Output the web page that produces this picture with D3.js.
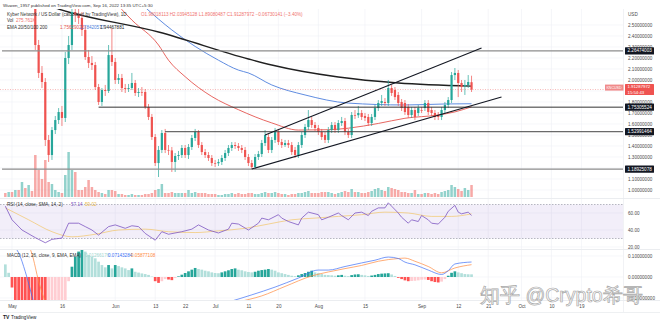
<!DOCTYPE html>
<html><head><meta charset="utf-8">
<script src="https://cdn.jsdelivr.net/npm/d3@7"></script>
<style>
body{margin:0;background:#fff}
svg{display:block}
text{font-family:"Liberation Sans",Arial,sans-serif}
</style>
</head><body>
<svg id="c" width="660" height="324"></svg>
<script>
// ---------- DATA ----------
const firstDay = "04-29", lastDay = "09-16";
const opens = [3.045,2.955,3.000,2.909,2.982,2.864,2.927,2.773,2.836,2.682,2.318,2.064,
1.982,1.455,1.318,1.545,1.636,1.709,1.655,2.200,2.318,2.618,
2.591,2.564,2.455,2.209,2.155,2.136,1.936,1.800,1.909,1.900,
2.227,2.164,2.000,2.018,1.927,1.918,1.927,1.973,1.882,1.891,
1.891,1.755,1.664,1.482,1.245,1.364,1.518,1.364,1.360,1.255,
1.309,1.318,1.382,1.318,1.391,1.473,1.527,1.409,1.345,1.318,
1.291,1.245,1.243,1.255,1.291,1.336,1.382,1.409,1.400,1.382,
1.364,1.300,1.245,1.209,1.300,1.327,1.427,1.482,1.364,1.455,
1.527,1.436,1.409,1.427,1.409,1.364,1.318,1.409,1.500,1.573,
1.636,1.591,1.564,1.527,1.500,1.455,1.545,1.591,1.545,1.609,
1.627,1.527,1.500,1.682,1.680,1.700,1.673,1.664,1.609,1.664,
1.745,1.791,1.800,1.791,1.927,1.909,1.864,1.800,1.791,1.755,
1.682,1.727,1.700,1.727,1.745,1.791,1.727,1.700,1.682,1.664,
1.727,1.773,1.818,2.045,2.064,1.973,1.945,1.955,1.980];
const highs = [3.136,3.073,3.055,3.036,3.018,3.000,2.964,2.891,2.864,2.727,2.364,2.127,
2.018,1.500,1.573,1.673,1.745,1.764,2.255,2.400,2.682,2.727,
2.709,2.618,2.491,2.273,2.218,2.164,1.964,1.927,1.955,2.318,
2.473,2.200,2.055,2.055,1.964,1.964,2.064,2.000,1.927,1.936,
1.918,1.782,1.691,1.509,1.400,1.545,1.555,1.409,1.391,1.336,
1.355,1.409,1.409,1.418,1.500,1.555,1.545,1.436,1.373,1.345,
1.318,1.273,1.282,1.318,1.364,1.409,1.436,1.436,1.427,1.409,
1.391,1.327,1.273,1.327,1.355,1.455,1.545,1.509,1.482,1.564,
1.555,1.464,1.455,1.455,1.436,1.391,1.436,1.527,1.600,1.727,
1.664,1.618,1.591,1.555,1.527,1.573,1.618,1.618,1.636,1.664,
1.655,1.555,1.709,1.727,1.764,1.727,1.700,1.691,1.691,1.773,
1.818,1.864,1.836,2.000,1.955,1.936,1.891,1.827,1.818,1.782,
1.755,1.755,1.773,1.755,1.818,1.818,1.755,1.727,1.709,1.755,
1.800,1.845,2.073,2.109,2.091,2.000,2.000,2.045,2.039];
const lows = [2.909,2.891,2.836,2.855,2.800,2.818,2.727,2.709,2.655,2.273,2.018,1.927,
1.400,1.255,1.273,1.509,1.600,1.582,1.618,2.145,2.273,2.527,
2.509,2.400,2.182,2.109,2.091,1.909,1.773,1.764,1.855,1.882,
2.127,1.964,1.964,1.891,1.882,1.891,1.909,1.855,1.845,1.855,
1.736,1.636,1.455,1.218,1.118,1.336,1.336,1.318,1.164,1.164,
1.273,1.291,1.291,1.282,1.364,1.445,1.382,1.318,1.291,1.264,
1.218,1.209,1.218,1.227,1.264,1.309,1.355,1.373,1.355,1.336,
1.273,1.218,1.191,1.191,1.273,1.300,1.400,1.336,1.336,1.427,
1.409,1.382,1.391,1.382,1.318,1.291,1.291,1.382,1.473,1.545,
1.564,1.536,1.500,1.455,1.427,1.427,1.518,1.518,1.518,1.582,
1.500,1.473,1.473,1.645,1.655,1.636,1.627,1.582,1.582,1.636,
1.718,1.764,1.764,1.764,1.855,1.818,1.764,1.718,1.682,1.655,
1.655,1.636,1.673,1.700,1.718,1.682,1.673,1.636,1.636,1.636,
1.700,1.745,1.791,2.000,1.845,1.891,1.864,1.927,1.891];
const closes = [2.955,3.000,2.909,2.982,2.864,2.927,2.773,2.836,2.682,2.318,2.064,1.982,
1.455,1.318,1.545,1.636,1.709,1.655,2.200,2.318,2.618,2.591,
2.564,2.455,2.209,2.155,2.136,1.936,1.800,1.909,1.900,2.227,
2.164,2.000,2.018,1.927,1.918,1.927,1.973,1.882,1.891,1.889,
1.755,1.664,1.482,1.245,1.364,1.518,1.364,1.360,1.255,1.309,
1.318,1.382,1.318,1.391,1.473,1.527,1.409,1.345,1.318,1.291,
1.245,1.243,1.255,1.291,1.336,1.382,1.409,1.400,1.382,1.364,
1.300,1.245,1.209,1.300,1.327,1.427,1.500,1.364,1.455,1.527,
1.436,1.409,1.427,1.409,1.345,1.318,1.409,1.500,1.573,1.636,
1.591,1.564,1.527,1.482,1.455,1.545,1.591,1.545,1.609,1.627,
1.527,1.500,1.682,1.680,1.700,1.664,1.655,1.609,1.664,1.745,
1.791,1.809,1.791,1.927,1.882,1.845,1.791,1.745,1.709,1.682,
1.727,1.664,1.745,1.725,1.791,1.709,1.700,1.664,1.664,1.727,
1.773,1.818,2.045,2.064,1.973,1.936,1.955,1.982,1.91287972];
const volumesK = [92,115,115,161,161,345,207,276,138,966,621,414,
851,345,299,161,115,92,506,1035,621,575,
161,161,230,391,230,161,115,92,69,161,
161,138,69,69,46,46,69,46,46,46,
69,69,92,161,184,299,92,92,115,92,
92,92,92,161,92,115,92,92,92,69,
69,69,46,46,69,69,92,69,92,69,
69,92,92,69,69,92,115,92,92,115,
92,69,69,46,69,69,92,92,115,138,
92,92,92,115,115,115,92,69,92,115,
138,115,184,115,115,92,92,115,138,184,
207,161,138,230,207,184,161,115,115,92,
92,161,69,69,92,92,69,92,69,115,
138,161,276,230,184,138,207,161,275.761];

const ema50Dates = ["05-25","06-06","06-14","06-17","06-22","06-30","07-08","07-18","07-26","08-04","08-10","08-19","08-27","09-06","09-11","09-16"];
const ema50Vals  = [2.95,2.545,2.318,2.18,2.03,1.85,1.73,1.61,1.545,1.548,1.562,1.605,1.652,1.682,1.71,1.75629022];
const ema100Dates = ["05-31","06-10","06-18","07-02","07-08","07-11","07-18","07-28","08-10","08-27","09-08","09-16"];
const ema100Vals  = [2.95,2.66,2.455,2.18,2.09,2.064,1.955,1.864,1.79,1.773,1.782,1.78420577];
const ema200Dates = ["05-01","05-15","06-14","07-11","07-18","08-07","08-25","09-16"];
const ema200Vals  = [2.80,2.645,2.436,2.191,2.136,2.027,1.973,1.94467881];

const levelPrices = [2.26474003, 1.75305524, 1.52991464, 1.18925078];
const levelStarts = ["04-28", "05-27", "06-16", "04-28"];
const trendUpDates = ["07-16","09-19"], trendUpPrices = [1.50, 2.291];
const trendLoDates = ["07-12","09-25"], trendLoPrices = [1.191, 1.845];
const lastPrice = 1.91287972;

const rsiDates = ["04-29","05-01","05-04","05-08","05-11","05-13","05-16","05-18","05-21","05-23",
"05-25","05-27","05-30","06-01","06-04","06-06","06-08","06-10","06-13","06-15",
"06-17","06-21","06-24","06-26","06-29","07-02","07-05","07-06","07-08","07-11",
"07-14","07-15","07-17","07-20","07-21","07-23","07-26","07-27","07-29","08-01",
"08-02","08-04","08-07","08-08","08-10","08-12","08-14","08-16","08-17","08-19",
"08-21","08-22","08-23","08-25","08-26","08-28","08-29","08-31","09-01","09-03",
"09-04","09-06","09-08","09-09","09-11","09-12","09-13","09-15","09-16"];
const rsiVals = [68,52,40,31,25,29,30.5,48,48,44,
40,34,44,46,42,45,44,36,28,38,
35,38,41,46,40,36.5,41,48,47,40,
48,54,52,58,54,50,46,54,61,58,
52,55,60,57,52,60,61,57,62,66,
66,72,68,60,55,48,52,50,57,52,
48,47,55,62,69,61,59,61,57.14];
const rsiMaDates = ["04-29","05-06","05-13","05-19","05-26","06-02","06-10","06-17","06-25","07-02","07-10","07-17","07-24","07-31","08-07","08-14","08-21","08-28","09-04","09-10","09-16"];
const rsiMaVals  = [66,52,38,32,35,40,41,38,37,39,42,47,52,54,56,58,61,60,56,56,59.02];

const macdDates = ["04-29","05-02","05-03","05-05","05-08","05-11","05-31","06-25","07-05","07-12","07-19","07-26","08-01","08-04","08-09","08-14","08-18","08-22","08-25","08-27","08-30","09-03","09-07","09-09","09-11","09-16"];
const macdVals  = [0.2,0.14,0.115,0.025,-0.15,-0.3,-0.3,-0.16,-0.119,-0.085,-0.048,-0.005,0.033,0.033,0.05,0.067,0.08,0.095,0.088,0.071,0.058,0.033,0.012,0.03,0.062,0.07143284];
const signalDates = ["04-29","05-04","05-07","05-09","05-11","05-16","05-31","06-25","07-08","07-15","07-22","07-30","08-04","08-09","08-14","08-19","08-25","08-27","08-30","09-03","09-07","09-11","09-16"];
const signalVals  = [0.28,0.19,0.11,-0.02,-0.12,-0.28,-0.32,-0.18,-0.119,-0.09,-0.045,0.005,0.024,0.04,0.055,0.075,0.088,0.09,0.075,0.05,0.02,0.043,0.05877108];
const histVals = [0.06,0.02,-0.05,-0.12,-0.18,-0.22,-0.25,-0.27,-0.29,-0.32,-0.35,-0.36,
-0.38,-0.35,-0.3,-0.26,-0.22,-0.18,-0.12,-0.02,0.049,0.097,
0.121,0.132,0.121,0.105,0.097,0.089,0.073,0.057,0.046,0.057,
0.041,0.057,0.052,0.046,0.041,0.033,0.041,0.025,0.021,0.017,
0.014,0.01,0.002,-0.02,-0.028,-0.02,-0.01,-0.012,-0.015,-0.005,
0.003,0.011,0.019,0.027,0.035,0.043,0.038,0.035,0.03,0.027,
0.022,0.019,0.018,0.022,0.027,0.032,0.038,0.041,0.035,0.032,
0.027,0.024,0.022,0.025,0.03,0.033,0.035,0.038,0.035,0.03,
0.022,0.018,0.014,0.01,0.006,0.004,0.008,0.014,0.019,0.025,
0.03,0.022,0.018,0.014,0.01,0.009,0.008,0.006,0.008,0.01,
0.006,0.004,0.009,0.012,0.013,0.01,0.008,0.005,0.007,0.01,
0.014,0.016,0.017,0.018,0.012,0.005,-0.004,-0.01,-0.016,-0.02,
-0.019,-0.018,-0.016,-0.013,-0.012,-0.014,-0.02,-0.024,-0.026,-0.022,
-0.01,0.006,0.02,0.027,0.022,0.018,0.014,0.013,0.01266176];

const priceTicks = [1.0,1.1,1.2,1.3,1.4,1.5,1.6,1.7,1.8,1.9,2.0,2.1,2.2,2.3,2.4,2.5];
const rsiTicks = [20,40,60];
const macdTicks = [-0.1,0,0.1];
const timeTicks = ["05-01","05-16","06-01","06-13","06-22","07-01","07-11","07-20","08-01","08-15","09-01","09-12","09-21","10-01","10-10","10-19"];

// ---------- SETUP ----------
const parse = s => d3.utcParse("%Y-%m-%d")("2022-" + s);
const zip = (a, b) => a.map((d, i) => [parse(d), b[i]]);
const dates = d3.utcDay.range(parse(firstDay), d3.utcDay.offset(parse(lastDay), 1));
const idx = d3.range(dates.length);

const svg = d3.select("#c");
svg.append("rect").attr("width", 660).attr("height", 324).attr("fill", "#fff");

const PR = 623;
const main = {t: 9, b: 198}, rsiP = {t: 199, b: 249}, macdP = {t: 250, b: 300};
const x = d3.scaleUtc().domain([parse("05-01"), parse("10-19")]).range([12, 12 + 171 * 3.33]);
const yP = d3.scaleLinear().domain([1, 2.5]).range([190, 25]);
const yV = d3.scaleLinear().domain([0, 1150]).range([197, 147]);
const yR = d3.scaleLinear().domain([20, 60]).range([247, 213]);
const yM = d3.scaleLinear().domain([-0.1, 0.1]).range([298, 256]);

const UP = "#26a69a", DN = "#ef5350";
const FS = 4.6;
const defs = svg.append("defs");
function clip(id, p) {
  defs.append("clipPath").attr("id", id).append("rect").attr("x", 0).attr("y", p.t).attr("width", PR).attr("height", p.b - p.t);
  return svg.append("g").attr("clip-path", `url(#${id})`);
}
const gMain = clip("cm", main), gRsi = clip("cr", rsiP), gMacd = clip("cd", macdP);

// grid
[[gMain, main], [gRsi, rsiP], [gMacd, macdP]].forEach(([g, p]) => {
  g.selectAll("line.vg").data(timeTicks).join("line")
    .attr("x1", d => x(parse(d))).attr("x2", d => x(parse(d)))
    .attr("y1", p.t).attr("y2", p.b).attr("stroke", "#eef0f5").attr("stroke-width", 0.6);
});
gMain.selectAll("line.hg").data(priceTicks).join("line")
  .attr("x1", 0).attr("x2", PR).attr("y1", d => yP(d)).attr("y2", d => yP(d))
  .attr("stroke", "#f0f2f6").attr("stroke-width", 0.6);
gRsi.selectAll("line.hg").data(rsiTicks).join("line")
  .attr("x1", 0).attr("x2", PR).attr("y1", d => yR(d)).attr("y2", d => yR(d))
  .attr("stroke", "#f0f2f6").attr("stroke-width", 0.6);
gMacd.selectAll("line.hg").data(macdTicks).join("line")
  .attr("x1", 0).attr("x2", PR).attr("y1", d => yM(d)).attr("y2", d => yM(d))
  .attr("stroke", "#f0f2f6").attr("stroke-width", 0.6);

// pane separators
[198.5, 249.5, 300.5].forEach(yy => svg.append("line").attr("x1", 0).attr("x2", 660).attr("y1", yy).attr("y2", yy).attr("stroke", "#e3e5ea").attr("stroke-width", 0.7));
svg.append("line").attr("x1", PR + 0.5).attr("x2", PR + 0.5).attr("y1", 9).attr("y2", 312).attr("stroke", "#e8eaef").attr("stroke-width", 0.6);
svg.append("line").attr("x1", 0).attr("x2", 660).attr("y1", 312.5).attr("y2", 312.5).attr("stroke", "#e3e5ea").attr("stroke-width", 0.6);

// volume
const isUp = i => closes[i] >= opens[i];
gMain.append("g").selectAll("rect").data(idx).join("rect")
  .attr("x", i => x(dates[i]) - 1.25).attr("width", 2.5)
  .attr("y", i => yV(volumesK[i])).attr("height", i => yV(0) - yV(volumesK[i]))
  .attr("fill", i => isUp(i) ? UP : DN).attr("opacity", 0.5);

// EMAs
const lineP = d3.line().x(d => x(d[0])).y(d => yP(d[1])).curve(d3.curveMonotoneX);
gMain.append("path").attr("d", lineP(zip(ema50Dates, ema50Vals))).attr("fill", "none").attr("stroke", "#e4554f").attr("stroke-width", 0.9);
gMain.append("path").attr("d", lineP(zip(ema100Dates, ema100Vals))).attr("fill", "none").attr("stroke", "#4d7fdc").attr("stroke-width", 0.9);
gMain.append("path").attr("d", lineP(zip(ema200Dates, ema200Vals))).attr("fill", "none").attr("stroke", "#202020").attr("stroke-width", 1.4);

// candles
const bw = 2.2;
const gc = gMain.append("g");
gc.selectAll("line").data(idx).join("line")
  .attr("x1", i => x(dates[i])).attr("x2", i => x(dates[i]))
  .attr("y1", i => yP(highs[i])).attr("y2", i => yP(lows[i]))
  .attr("stroke", i => isUp(i) ? UP : DN).attr("stroke-width", 0.7);
gc.selectAll("rect").data(idx).join("rect")
  .attr("x", i => x(dates[i]) - bw / 2).attr("width", bw)
  .attr("y", i => yP(Math.max(opens[i], closes[i])))
  .attr("height", i => Math.max(0.7, Math.abs(yP(opens[i]) - yP(closes[i]))))
  .attr("fill", i => isUp(i) ? UP : DN);

// horizontal levels
const levelColors = ["#8d8d8d", "#333", "#444", "#8d8d8d"];
const levelWidths = [1.3, 1.0, 1.0, 1.3];
levelPrices.forEach((p, i) => {
  gMain.append("line").attr("x1", x(parse(levelStarts[i]))).attr("x2", PR)
    .attr("y1", yP(p)).attr("y2", yP(p)).attr("stroke", levelColors[i]).attr("stroke-width", levelWidths[i]);
});
// trend lines
[[trendUpDates, trendUpPrices], [trendLoDates, trendLoPrices]].forEach(([ds, ps]) => {
  gMain.append("line").attr("x1", x(parse(ds[0]))).attr("y1", yP(ps[0]))
    .attr("x2", x(parse(ds[1]))).attr("y2", yP(ps[1]))
    .attr("stroke", "#131722").attr("stroke-width", 1.1);
});
// last price line
gMain.append("line").attr("x1", 0).attr("x2", PR).attr("y1", yP(lastPrice)).attr("y2", yP(lastPrice))
  .attr("stroke", DN).attr("stroke-width", 0.6).attr("stroke-dasharray", "1,1.5").attr("opacity", 0.7);

// RSI pane
gRsi.append("rect").attr("x", 0).attr("width", PR).attr("y", yR(70)).attr("height", yR(30) - yR(70)).attr("fill", "rgba(126,87,194,0.1)");
[70, 30].forEach(v => gRsi.append("line").attr("x1", 0).attr("x2", PR).attr("y1", yR(v)).attr("y2", yR(v))
  .attr("stroke", "#8a8d99").attr("stroke-width", 0.6).attr("stroke-dasharray", "1.5,1.5"));
const lineR = d3.line().x(d => x(d[0])).y(d => yR(d[1])).curve(d3.curveLinear);
gRsi.append("path").attr("d", d3.line().x(d => x(d[0])).y(d => yR(d[1])).curve(d3.curveMonotoneX)(zip(rsiMaDates, rsiMaVals)))
  .attr("fill", "none").attr("stroke", "#f3c25a").attr("stroke-width", 0.8).attr("opacity", 0.8);
gRsi.append("path").attr("d", lineR(zip(rsiDates, rsiVals))).attr("fill", "none").attr("stroke", "#7e57c2").attr("stroke-width", 0.8);

// MACD pane
const histColor = (i) => {
  const v = histVals[i], pv = i > 0 ? histVals[i - 1] : v;
  if (v >= 0) return pv < v ? "#26a69a" : "#b2dfdb";
  return pv < v ? "#ffcdd2" : "#ff5252";
};
gMacd.append("g").selectAll("rect").data(idx).join("rect")
  .attr("x", i => x(dates[i]) - 1.35).attr("width", 2.7)
  .attr("y", i => Math.min(yM(0), yM(histVals[i])))
  .attr("height", i => Math.abs(yM(histVals[i]) - yM(0)))
  .attr("fill", (d, i) => histColor(i));
const lineM = d3.line().x(d => x(d[0])).y(d => yM(d[1])).curve(d3.curveMonotoneX);
gMacd.append("path").attr("d", lineM(zip(signalDates, signalVals))).attr("fill", "none").attr("stroke", "#ff8a3d").attr("stroke-width", 0.7);
gMacd.append("path").attr("d", lineM(zip(macdDates, macdVals))).attr("fill", "none").attr("stroke", "#3d6ff5").attr("stroke-width", 0.7);

// ---------- AXES ----------
const axisStyle = g => { g.select(".domain").remove(); g.selectAll("text").attr("font-size", FS).attr("fill", "#4a4a4a").attr("font-family", '"Liberation Sans",Arial,sans-serif'); };
svg.append("g").attr("transform", `translate(${PR + 2},0)`)
  .call(d3.axisRight(yP).tickValues(priceTicks).tickSize(0).tickPadding(3).tickFormat(d3.format(".8f")))
  .call(axisStyle);
svg.append("g").attr("transform", `translate(${PR + 2},0)`)
  .call(d3.axisRight(yR).tickValues(rsiTicks).tickSize(0).tickPadding(3).tickFormat(d3.format(".2f")))
  .call(axisStyle);
svg.append("g").attr("transform", `translate(${PR + 2},0)`)
  .call(d3.axisRight(yM).tickValues(macdTicks).tickSize(0).tickPadding(3).tickFormat(d3.format(".8f")))
  .call(axisStyle);
const fmtT = d => d.getUTCDate() === 1 ? d3.utcFormat("%b")(d) : d3.utcFormat("%-d")(d);
svg.append("g").attr("transform", `translate(0,${macdP.b + 3})`)
  .call(d3.axisBottom(x).tickValues(timeTicks.map(parse)).tickSize(0).tickPadding(1.5).tickFormat(fmtT))
  .call(axisStyle);
svg.append("text").attr("x", PR + 5).attr("y", 16).attr("font-size", FS).attr("fill", "#4a4a4a").text("USD");

// level labels
levelPrices.forEach(p => {
  const yy = yP(p);
  svg.append("rect").attr("x", PR + 2).attr("y", yy - 3.6).attr("width", 29).attr("height", 7.2).attr("fill", "#131722").attr("rx", 0.5);
  svg.append("text").attr("x", PR + 4.5).attr("y", yy).attr("dy", "0.35em").attr("font-size", FS).attr("fill", "#fff").text(p.toFixed(8));
});
// last price label
{
  const yy = yP(lastPrice);
  svg.append("rect").attr("x", 605).attr("y", yy - 5).attr("width", 18.5).attr("height", 6).attr("fill", "#f08a8a");
  svg.append("text").attr("x", 614).attr("y", yy - 2).attr("dy", "0.35em").attr("text-anchor", "middle").attr("font-size", 3.6).attr("fill", "#fff").text("KNCUSD");
  svg.append("rect").attr("x", PR + 2).attr("y", yy - 5.5).attr("width", 29).attr("height", 11).attr("fill", DN).attr("rx", 0.5);
  svg.append("text").attr("x", PR + 4.5).attr("y", yy - 2.6).attr("dy", "0.35em").attr("font-size", 4.3).attr("fill", "#fff").text(lastPrice.toFixed(8));
  svg.append("text").attr("x", PR + 4.5).attr("y", yy + 2.6).attr("dy", "0.35em").attr("font-size", 4.3).attr("fill", "#fff").text("15:54:43");
}

// ---------- LEGENDS ----------
const T = (xx, yy, s, col, fs) => svg.append("text").attr("x", xx).attr("y", yy).attr("font-size", fs || FS).attr("fill", col || "#333").text(s);
T(3, 6.6, "Wuwen_1957 published on TradingView.com, Sep 16, 2022 13:35 UTC+5:30", "#333", 4.4);
T(7, 16, "Kyber Network / US Dollar (calculated by TradingView), 1D", "#333");
T(141, 16, "O1.98018113 H2.03945128 L1.89080487 C1.91287972 \u22120.06730141 (\u22123.40%)", "#f0736f");
T(7, 22.4, "Vol", "#333");
T(16, 22.4, "275.761K", "#f0736f");
T(7, 28.6, "EMA 20/50/100 200", "#333");
T(60, 28.6, "1.75629022", "#e4554f");
T(80, 28.6, "1.78420577", "#4d7fdc");
T(100, 28.6, "1.94467881", "#222");
T(7, 205.5, "RSI (14, close, SMA, 14, 2)", "#333");
T(71, 205.5, "57.14", "#7e57c2");
T(85, 205.5, "59.02", "#e9b949");
T(7, 256.5, "MACD (12, 26, close, 9, EMA, EMA)", "#333");
T(85, 256.5, "0.01266176", "#9fd6cf");
T(108, 256.5, "0.07143284", "#3d6ff5");
T(131, 256.5, "0.05877108", "#ff8a3d");

// TradingView logo
svg.append("text").attr("x", 3).attr("y", 318.5).attr("font-size", 5).attr("font-weight", "bold").attr("fill", "#131722").text("TV");
T(11, 318.5, "TradingView", "#131722", 4.6);

// watermark
svg.append("text").attr("x", 480).attr("y", 302).attr("font-size", 19.5)
  .attr("font-family", '"Noto Sans CJK SC","Noto Sans",sans-serif').attr("font-weight", 300)
  .attr("fill", "#ffffff").attr("fill-opacity", 0.75).attr("stroke", "#a9a9a9").attr("stroke-width", 0.7)
  .text("知乎 @Crypto希哥");
</script>
</body></html>
